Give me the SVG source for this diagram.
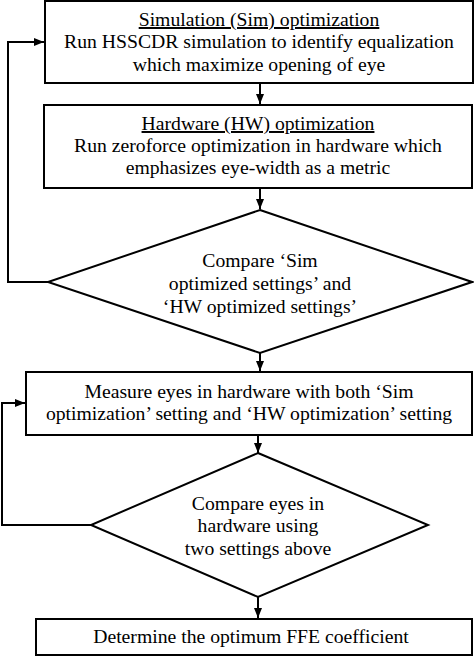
<svg xmlns="http://www.w3.org/2000/svg" width="474" height="656" viewBox="0 0 474 656">
<style>
.box{fill:#fff;stroke:#000;stroke-width:2}
.t{font-family:"Liberation Serif","Times New Roman",serif;font-size:19.7px;fill:#000;text-anchor:middle}
.u{text-decoration:underline}
.c{fill:none;stroke:#000;stroke-width:2}
</style>
<defs>
<marker id="ah" markerWidth="10" markerHeight="8" refX="10" refY="4" orient="auto" markerUnits="userSpaceOnUse">
<path d="M0,0 L10,4 L0,8 Z" fill="#000"/>
</marker>
</defs>
<rect width="474" height="656" fill="#fff"/>
<g id="connectors">
<path class="c" d="M260,83 V104" marker-end="url(#ah)"/>
<path class="c" d="M260,188 V209" marker-end="url(#ah)"/>
<path class="c" d="M260,353 V371" marker-end="url(#ah)"/>
<path class="c" d="M258,435 V453" marker-end="url(#ah)"/>
<path class="c" d="M258,597 V618" marker-end="url(#ah)"/>
<path class="c" d="M48,282 H8 V42 H44" marker-end="url(#ah)"/>
<path class="c" d="M91,525 H2 V403 H25" marker-end="url(#ah)"/>
</g>
<g id="sim">
<rect class="box" x="45" y="1" width="428" height="82"/>
<text class="t" x="259" y="26"><tspan class="u">Simulation (Sim) optimization</tspan></text>
<text class="t" x="259" y="48">Run HSSCDR simulation to identify equalization</text>
<text class="t" x="259" y="71">which maximize opening of eye</text>
</g>
<g id="hw">
<rect class="box" x="44" y="105" width="428" height="83"/>
<text class="t" x="258" y="130"><tspan class="u">Hardware (HW) optimization</tspan></text>
<text class="t" x="258" y="152">Run zeroforce optimization in hardware which</text>
<text class="t" x="258" y="174">emphasizes eye-width as a metric</text>
</g>
<g id="compare1">
<polygon class="box" points="260,210 472,282 260,353 48,282"/>
<text class="t" x="260" y="267">Compare ‘Sim</text>
<text class="t" x="260" y="290">optimized settings’ and</text>
<text class="t" x="260" y="313">‘HW optimized settings’</text>
</g>
<g id="measure">
<rect class="box" x="26" y="372" width="446" height="63"/>
<text class="t" x="249" y="398">Measure eyes in hardware with both ‘Sim</text>
<text class="t" x="249" y="420">optimization’ setting and ‘HW optimization’ setting</text>
</g>
<g id="compare2">
<polygon class="box" points="258,453 428,525 258,597 91,525"/>
<text class="t" x="258" y="510">Compare eyes in</text>
<text class="t" x="258" y="532">hardware using</text>
<text class="t" x="258" y="555">two settings above</text>
</g>
<g id="ffe">
<rect class="box" x="36" y="619" width="436" height="36"/>
<text class="t" x="251" y="643">Determine the optimum FFE coefficient</text>
</g>
</svg>
